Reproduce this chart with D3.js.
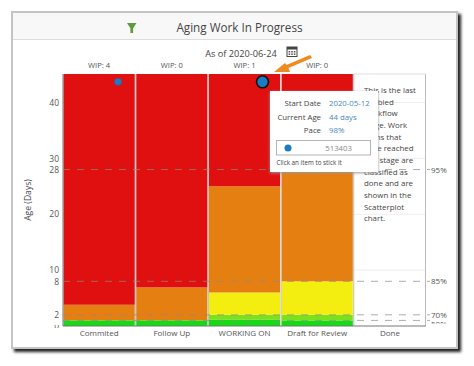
<!DOCTYPE html>
<html>
<head>
<meta charset="utf-8">
<script src="https://cdn.jsdelivr.net/npm/d3@7/dist/d3.min.js"></script>
<style>
body { margin: 0; background: #fff; }
text { font-family: "Open Sans", sans-serif; }
.axis .domain { display: none; }
.axis line { display: none; }
.axis text { font-family: "Open Sans", sans-serif; fill: #555; }
</style>
</head>
<body>
<div id="chart"></div>
<script>
const stages = ["Commited", "Follow Up", "WORKING ON", "Draft for Review", "Done"];
const wip = [4, 0, 1, 0];
// band heights in days, bottom to top, one value per stage (Done has none)
const green = [1, 1, 1.1, 1];
const lime = [0, 0, 0.9, 1];
const yellow = [0, 0, 4, 6];
const orange = [2.8, 5.9, 19, 20];
const red = [41.3, 38.2, 20.1, 17.1];
const bandColors = ["#12dc12", "#7ee01c", "#f3ee10", "#e67f12", "#e01010"];
const yTicks = [40, 30, 28, 20, 10, 8, 2];
const gridTicks = [40, 30, 20, 10];
const pctDays = [28, 8, 2, 1];
const pctLabels = ["95%", "85%", "70%", "50%"];
const doneText = ["This is the last", "enabled", "workflow", "stage. Work", "items that", "have reached", "this stage are", "classified as", "done and are", "shown in the", "Scatterplot", "chart."];
const dots = [{stage: "Commited", age: 43.7, big: false}, {stage: "WORKING ON", age: 43.7, big: true}];
const tipRows = [["Start Date", "2020-05-12"], ["Current Age", "44 days"], ["Pace", "98%"]];

const svg = d3.select("#chart").append("svg").attr("width", 474).attr("height", 366);
const defs = svg.append("defs");

const shadow = defs.append("filter").attr("id", "shadow")
    .attr("x", "-5%").attr("y", "-5%").attr("width", "110%").attr("height", "110%");
shadow.append("feDropShadow").attr("dx", 3).attr("dy", 3).attr("stdDeviation", 1.5).attr("flood-color", "#222");
const tipShadow = defs.append("filter").attr("id", "tipShadow")
    .attr("x", "-10%").attr("y", "-10%").attr("width", "120%").attr("height", "120%");
tipShadow.append("feDropShadow").attr("dx", 0).attr("dy", 1).attr("stdDeviation", 1.5).attr("flood-color", "#999");
// the lowest labels are cut off in the original
defs.append("clipPath").attr("id", "cutRight").append("rect")
    .attr("x", 425).attr("y", 321).attr("width", 30).attr("height", 2.5);
defs.append("clipPath").attr("id", "cutLeft").append("rect")
    .attr("x", 40).attr("y", 325).attr("width", 22).attr("height", 3);

// card and header
svg.append("rect").attr("x", 12).attr("y", 12).attr("width", 445).attr("height", 336)
    .attr("fill", "#fff").attr("stroke", "#c4c4c4").attr("stroke-width", 2).attr("filter", "url(#shadow)");
svg.append("rect").attr("x", 13).attr("y", 13).attr("width", 443).attr("height", 26).attr("fill", "#f8f8f8");
svg.append("line").attr("x1", 13).attr("x2", 456).attr("y1", 39.5).attr("y2", 39.5).attr("stroke", "#ddd");
svg.append("path").attr("d", "M127 23h9.5l-3.4 5.2v4.8h-2.7v-4.8z").attr("fill", "#5d9c3a");
svg.append("text").attr("x", 239.5).attr("y", 31.5).attr("text-anchor", "middle")
    .attr("font-size", 11.7).attr("fill", "#444").text("Aging Work In Progress");
svg.append("text").attr("x", 241).attr("y", 57).attr("text-anchor", "middle")
    .attr("font-size", 9.2).attr("fill", "#444").text("As of 2020-06-24");

// calendar icon
const cal = svg.append("g").attr("transform", "translate(287,47)");
cal.append("rect").attr("width", 10).attr("height", 9.5).attr("fill", "#fff").attr("stroke", "#444");
cal.append("rect").attr("width", 10).attr("height", 2.5).attr("fill", "#444");
cal.selectAll(".cell").data(d3.range(6)).join("rect")
    .attr("x", d => 1.6 + (d % 3) * 2.6).attr("y", d => 4 + Math.floor(d / 3) * 2.4)
    .attr("width", 1.6).attr("height", 1.5).attr("fill", "#555");

const x = d3.scaleBand().domain(stages).range([63.5, 425.5]).paddingInner(0.02).paddingOuter(0);
const y = d3.scaleLinear().domain([0, 45.1]).range([326, 74]);

// light grid and panel edges
svg.append("g").selectAll("line").data(gridTicks).join("line")
    .attr("x1", 353).attr("x2", 425).attr("y1", d => y(d)).attr("y2", d => y(d)).attr("stroke", "#eee");
svg.append("line").attr("x1", 425.5).attr("x2", 425.5).attr("y1", y(45.1)).attr("y2", y(0)).attr("stroke", "#bbb");
svg.append("line").attr("x1", 353).attr("x2", 425.5).attr("y1", y(45.1)).attr("y2", y(45.1)).attr("stroke", "#ddd");

// stacked columns
const table = stages.slice(0, 4).map((s, i) => ({
    stage: s, green: green[i], lime: lime[i], yellow: yellow[i], orange: orange[i], red: red[i]
}));
const stacked = d3.stack().keys(["green", "lime", "yellow", "orange", "red"])(table);
svg.append("g").selectAll("g").data(stacked).join("g")
    .attr("fill", (d, i) => bandColors[i])
    .selectAll("rect").data(d => d).join("rect")
    .attr("x", d => x(d.data.stage))
    .attr("width", x.bandwidth())
    .attr("y", d => y(d[1]))
    .attr("height", d => y(d[0]) - y(d[1]));

// column separators
svg.append("g").selectAll("line").data(stages.slice(1)).join("line")
    .attr("x1", d => x(d) - 0.5).attr("x2", d => x(d) - 0.5)
    .attr("y1", y(45.1)).attr("y2", y(0)).attr("stroke", "#bbb");

// axis lines
svg.append("line").attr("x1", 63).attr("x2", 63).attr("y1", y(45.1)).attr("y2", y(0)).attr("stroke", "#777");
svg.append("line").attr("x1", 63).attr("x2", 426).attr("y1", y(0)).attr("y2", y(0)).attr("stroke", "#777");

// percentile lines
svg.append("g").selectAll("line").data(pctDays).join("line")
    .attr("x1", 63).attr("x2", 430)
    .attr("y1", d => y(d)).attr("y2", d => y(d))
    .attr("stroke", "#8a8a8a").attr("stroke-opacity", 0.7).attr("stroke-dasharray", "7 7");
svg.append("g").selectAll("text").data(pctDays).join("text")
    .attr("x", 431).attr("y", (d, i) => i === 3 ? 327 : y(d) + 3)
    .attr("font-size", 8).attr("fill", "#555")
    .attr("clip-path", (d, i) => i === 3 ? "url(#cutRight)" : null)
    .text((d, i) => pctLabels[i]);

// axes
svg.append("g").attr("class", "axis").attr("transform", "translate(61,0)")
    .call(d3.axisLeft(y).tickValues(yTicks).tickFormat(d3.format("d")).tickSize(0).tickPadding(2))
    .selectAll("text").attr("font-size", 8.5);
svg.append("text").attr("x", 59).attr("y", y(0) + 3).attr("text-anchor", "end")
    .attr("font-size", 8.5).attr("fill", "#555").attr("clip-path", "url(#cutLeft)").text("0");
svg.append("g").attr("class", "axis").attr("transform", "translate(0,326)")
    .call(d3.axisBottom(x).tickSize(0).tickPadding(4))
    .selectAll("text").attr("font-size", 8);
svg.append("text").attr("transform", "translate(31,200) rotate(-90)").attr("text-anchor", "middle")
    .attr("font-size", 8.6).attr("fill", "#445").text("Age (Days)");

// wip labels
svg.append("g").selectAll("text").data(wip).join("text")
    .attr("x", (d, i) => x(stages[i]) + x.bandwidth() / 2).attr("y", 68)
    .attr("text-anchor", "middle").attr("font-size", 7.6).attr("fill", "#555")
    .text(d => "WIP: " + d);

// done description
svg.append("g").selectAll("text").data(doneText).join("text")
    .attr("x", 364).attr("y", (d, i) => 93 + i * 11.65)
    .attr("font-size", 7.9).attr("fill", "#444").text(d => d);

// work items
svg.append("g").selectAll("circle").data(dots).join("circle")
    .attr("cx", d => d.big ? 262.5 : 118)
    .attr("cy", d => y(d.age))
    .attr("r", d => d.big ? 6 : 3.5)
    .attr("fill", "#1a7cc4")
    .attr("stroke", d => d.big ? "#111" : "#3a5f9a")
    .attr("stroke-width", d => d.big ? 1.6 : 0.8);

// tooltip
const tip = svg.append("g");
tip.append("rect").attr("x", 270).attr("y", 91).attr("width", 108).attr("height", 81)
    .attr("fill", "#fff").attr("filter", "url(#tipShadow)");
tipRows.forEach((r, i) => {
    tip.append("text").attr("x", 321).attr("y", 106 + i * 13.5).attr("text-anchor", "end")
        .attr("font-size", 7.8).attr("fill", "#444").text(r[0]);
    tip.append("text").attr("x", 329).attr("y", 106 + i * 13.5)
        .attr("font-size", 7.8).attr("fill", "#4a88c2").text(r[1]);
});
tip.append("rect").attr("x", 276.5).attr("y", 140.5).attr("width", 94).attr("height", 14.5)
    .attr("fill", "#fff").attr("stroke", "#b5b5b5");
tip.append("circle").attr("cx", 288).attr("cy", 148).attr("r", 3.5).attr("fill", "#1a7cc4");
tip.append("text").attr("x", 352).attr("y", 151).attr("text-anchor", "end")
    .attr("font-size", 7.8).attr("fill", "#888").text("513403");
tip.append("text").attr("x", 276.5).attr("y", 165)
    .attr("font-size", 6.3).attr("fill", "#444").text("Click an item to stick it");

// orange callout arrow
svg.append("path").attr("d", "M274 72L285 63L286.5 65L310 55L312 58L288.5 68L290 72Z")
    .attr("fill", "#ef8a1e");
</script>
</body>
</html>
